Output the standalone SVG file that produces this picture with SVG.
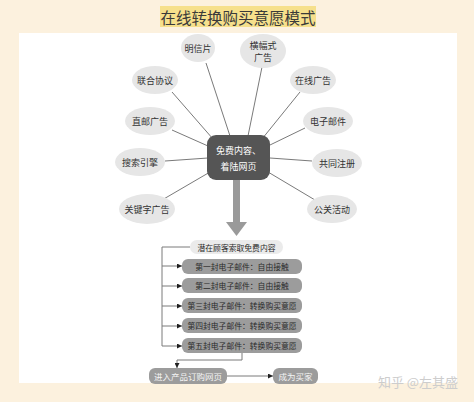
<svg xmlns="http://www.w3.org/2000/svg" width="474" height="402" viewBox="0 0 474 402">
<defs>
<style>
text{font-family:"Noto Sans CJK SC","Noto Sans",sans-serif;text-anchor:middle;dominant-baseline:central}
.ell{fill:#e6e6e6}
.et{font-size:9px;fill:#333}
.ln{stroke:#7a7a7a;stroke-width:1;fill:none}
.box{fill:#9c9c9c}
.bt{font-size:7.8px;fill:#2a2a2a}
.wt{font-size:8.5px;fill:#f4f4f4}
</style>
<marker id="ah" viewBox="0 0 6 6" refX="6" refY="3" markerWidth="5" markerHeight="5" orient="auto"><path d="M0,0 L6,3 L0,6 z" fill="#222"/></marker>
</defs>
<rect width="474" height="402" fill="#fcf1de"/>
<rect x="19" y="33" width="438" height="350" fill="#ffffff"/>
<rect x="160" y="6" width="156" height="21" fill="#f6e08c"/>
<text x="238" y="16.5" font-size="15.5" fill="#3a3a3a">在线转换购买意愿模式</text>

<g id="connectors">
<line class="ln" x1="206" y1="63" x2="230" y2="136"/>
<line class="ln" x1="262" y1="67" x2="248" y2="136"/>
<line class="ln" x1="172" y1="92" x2="213" y2="139"/>
<line class="ln" x1="300" y1="92" x2="262" y2="139"/>
<line class="ln" x1="172" y1="130" x2="208" y2="146"/>
<line class="ln" x1="305" y1="128" x2="270" y2="145"/>
<line class="ln" x1="165" y1="161" x2="208" y2="158"/>
<line class="ln" x1="270" y1="158" x2="312" y2="161"/>
<line class="ln" x1="162" y1="200" x2="210" y2="172"/>
<line class="ln" x1="315" y1="200" x2="268" y2="172"/>
<rect x="233" y="180" width="7" height="43" fill="#9a9a9a"/>
<path d="M226,222 L247,222 L236.5,236 z" fill="#9a9a9a"/>
<path class="ln" d="M190,247 L162,247 L162,346" stroke="#555"/>
<line class="ln" stroke="#555" x1="162" y1="266" x2="182" y2="266" marker-end="url(#ah)"/>
<line class="ln" stroke="#555" x1="162" y1="286" x2="182" y2="286" marker-end="url(#ah)"/>
<line class="ln" stroke="#555" x1="162" y1="306" x2="182" y2="306" marker-end="url(#ah)"/>
<line class="ln" stroke="#555" x1="162" y1="326" x2="182" y2="326" marker-end="url(#ah)"/>
<line class="ln" stroke="#555" x1="162" y1="346" x2="182" y2="346" marker-end="url(#ah)"/>
<path class="ln" stroke="#555" d="M242,353 L242,360 L177,360 L177,368" marker-end="url(#ah)"/>
<line class="ln" stroke="#555" x1="227" y1="376" x2="273" y2="376" marker-end="url(#ah)"/>
</g>

<g id="n-mingxinpian"><ellipse class="ell" cx="198" cy="48" rx="17" ry="14"/><text class="et" x="198" y="48">明信片</text></g>
<g id="n-hengfu"><ellipse class="ell" cx="263" cy="51" rx="23" ry="17"/><text class="et" x="263" y="45">横幅式</text><text class="et" x="263" y="57">广告</text></g>
<g id="n-lianhe"><ellipse class="ell" cx="155" cy="80" rx="23" ry="14"/><text class="et" x="155" y="80">联合协议</text></g>
<g id="n-zaixian"><ellipse class="ell" cx="313" cy="80" rx="23" ry="14"/><text class="et" x="313" y="80">在线广告</text></g>
<g id="n-zhiyou"><ellipse class="ell" cx="150" cy="121" rx="25" ry="14"/><text class="et" x="150" y="121">直邮广告</text></g>
<g id="n-dianzi"><ellipse class="ell" cx="328" cy="121" rx="25" ry="14"/><text class="et" x="328" y="121">电子邮件</text></g>
<g id="n-sousuo"><ellipse class="ell" cx="140" cy="162" rx="25" ry="14"/><text class="et" x="140" y="162">搜索引擎</text></g>
<g id="n-gongtong"><ellipse class="ell" cx="337" cy="163" rx="25" ry="14"/><text class="et" x="337" y="163">共同注册</text></g>
<g id="n-guanjianzi"><ellipse class="ell" cx="147" cy="209" rx="28" ry="15"/><text class="et" x="147" y="209">关键字广告</text></g>
<g id="n-gongguan"><ellipse class="ell" cx="332" cy="209" rx="25" ry="14"/><text class="et" x="332" y="209">公关活动</text></g>

<g id="n-center"><rect x="207" y="135" width="63" height="45" rx="9" fill="#555555"/><text x="238.5" y="150" font-size="9" fill="#fff">免费内容、</text><text x="238.5" y="166" font-size="9" fill="#fff">着陆网页</text></g>

<g id="n-qianzai"><rect x="190" y="240" width="93" height="14" rx="7" fill="#ebebeb"/><text class="bt" x="236.5" y="247">潜在顾客索取免费内容</text></g>
<g id="n-mail1"><rect class="box" x="182" y="259" width="120" height="15" rx="6"/><text class="bt" x="242" y="266.5">第一封电子邮件：自由接触</text></g>
<g id="n-mail2"><rect class="box" x="182" y="278" width="120" height="15" rx="6"/><text class="bt" x="242" y="285.5">第二封电子邮件：自由接触</text></g>
<g id="n-mail3"><rect class="box" x="182" y="298" width="120" height="15" rx="6"/><text class="bt" x="242" y="305.5">第三封电子邮件：转换购买意愿</text></g>
<g id="n-mail4"><rect class="box" x="182" y="318" width="120" height="15" rx="6"/><text class="bt" x="242" y="325.5">第四封电子邮件：转换购买意愿</text></g>
<g id="n-mail5"><rect class="box" x="182" y="338" width="120" height="15" rx="6"/><text class="bt" x="242" y="345.5">第五封电子邮件：转换购买意愿</text></g>
<g id="n-jinru"><rect class="box" x="149" y="368" width="78" height="16" rx="6"/><text class="wt" x="188" y="376">进入产品订购网页</text></g>
<g id="n-maijia"><rect class="box" x="273" y="368" width="45" height="16" rx="6" fill="#a4a4a4"/><text class="wt" x="295.5" y="376">成为买家</text></g>

<text x="418" y="381" font-size="13" fill="#cdcdcd">知乎 @左其盛</text>
</svg>
